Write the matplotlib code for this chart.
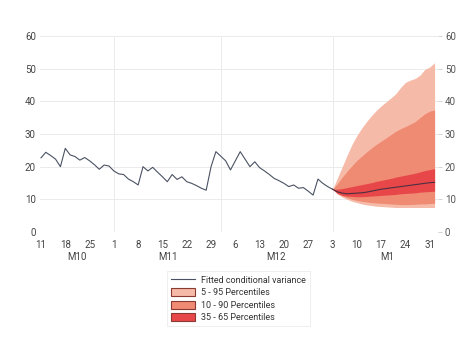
import numpy as np
import matplotlib.pyplot as plt
import matplotlib.transforms as mtransforms

plt.rcParams['font.family'] = ['Roboto', 'DejaVu Sans']

# business-day index, 0 = Mon 11 Oct
hist = [22.7, 24.4, 23.4, 22.3, 20.0, 25.6, 23.6, 23.1, 22.0, 22.8,
        21.8, 20.6, 19.2, 20.5, 20.2, 18.7, 17.8, 17.6, 16.2, 15.4,
        14.4, 20.0, 18.7, 19.8, 18.3, 16.9, 15.4, 17.6, 16.1, 16.9,
        15.4, 14.9, 14.2, 13.4, 12.8, 20.0, 24.6, 23.2, 21.8, 19.0,
        21.8, 24.6, 22.3, 20.0, 21.5, 19.7, 18.7, 17.6, 16.4, 15.7,
        14.9, 13.9, 14.4, 13.4, 13.6, 12.5, 11.3, 16.2, 14.9, 13.9,
        13.1]

upper95 = [13.1, 16.5, 20.0, 23.5, 26.8, 29.5, 31.8, 33.8, 35.6, 37.2, 38.6,
           39.8, 41.0, 42.3, 44.2, 45.8, 46.5, 47.0, 48.0, 49.8, 50.5, 51.8]
upper90 = [13.1, 14.8, 16.8, 18.6, 20.3, 21.9, 23.2, 24.5, 25.7, 26.8, 27.8,
           28.8, 29.8, 30.8, 31.6, 32.3, 33.0, 33.8, 35.0, 36.2, 37.0, 37.4]
upper65 = [13.1, 13.1, 13.3, 13.6, 13.9, 14.2, 14.5, 14.8, 15.1, 15.5, 15.8,
           16.1, 16.4, 16.8, 17.1, 17.4, 17.7, 18.0, 18.4, 18.8, 19.1, 19.4]
center = [13.1, 12.3, 11.9, 11.7, 11.8, 11.9, 12.0, 12.2, 12.5, 12.8, 13.1,
          13.3, 13.5, 13.7, 13.9, 14.1, 14.3, 14.5, 14.7, 14.9, 15.1, 15.2]
lower35 = [13.1, 11.8, 11.2, 11.0, 10.9, 10.8, 10.8, 10.9, 11.0, 11.1, 11.2,
           11.3, 11.4, 11.5, 11.7, 11.8, 11.9, 12.0, 12.2, 12.3, 12.4, 12.5]
lower10 = [13.1, 11.9, 11.1, 10.5, 10.0, 9.7, 9.4, 9.2, 9.0, 8.9, 8.8,
           8.7, 8.6, 8.5, 8.4, 8.4, 8.4, 8.5, 8.6, 8.6, 8.7, 8.8]
lower5 = [13.1, 11.6, 10.7, 10.0, 9.4, 9.0, 8.6, 8.3, 8.1, 7.9, 7.8,
          7.7, 7.6, 7.5, 7.5, 7.5, 7.5, 7.5, 7.5, 7.5, 7.5, 7.5]

tick_labels = ['11', '18', '25', '1', '8', '15', '22', '29', '6', '13',
               '20', '27', '3', '10', '17', '24', '31']
months = ['M10', 'M11', 'M12', 'M1']
month_pos = [7.4, 26.1, 48.4, 71.2]
month_starts = [15, 37, 60]

x_hist = np.arange(len(hist))
x_fc = np.arange(60, 60 + len(center))

fig = plt.figure(figsize=(4.74, 3.48), dpi=100)
ax = fig.add_axes([0.0844, 0.3333, 0.8396, 0.5633])

c_out, c_mid, c_in = '#f6bba8', '#ef8a73', '#e8474a'
ax.fill_between(x_fc, lower5, upper95, color=c_out, lw=0, zorder=2)
ax.fill_between(x_fc, lower10, upper90, color=c_mid, lw=0, zorder=3)
ax.fill_between(x_fc, lower35, upper65, color=c_in, lw=0, zorder=4)
ax.plot(x_hist, hist, color='#4a5263', lw=0.8, zorder=5)
ax.plot(x_fc, center, color='#4a3040', lw=0.8, zorder=5)

ax.set_xlim(-0.2, 81.7)
ax.set_ylim(0, 60)
ax.set_yticks(range(0, 61, 10))
ax.set_xticks(range(0, 81, 5))
ax.set_xticklabels(tick_labels)
for s in ax.spines.values():
    s.set_visible(False)
for v in range(10, 61, 10):
    ax.axhline(v, color='#ebebeb', lw=0.7, zorder=0)
for m in month_starts:
    ax.axvline(m, color='#ebebeb', lw=0.7, zorder=0)
ax.tick_params(axis='both', length=0, labelsize=7, colors='#444444')
ax.tick_params(axis='x', pad=6)
ax.tick_params(axis='y', pad=3)

ax2 = ax.twinx()
ax2.set_ylim(0, 60)
ax2.set_yticks(range(0, 61, 10))
for s in ax2.spines.values():
    s.set_visible(False)
ax2.tick_params(axis='y', length=3, width=0.6, color='#cccccc',
                labelsize=7, labelcolor='#555555', pad=2)

trans = mtransforms.blended_transform_factory(ax.transData, ax.transAxes)
for lab, pos in zip(months, month_pos):
    ax.text(pos, -0.128, lab, transform=trans, ha='center', va='center',
            fontsize=7, color='#444444')

handles = [
    plt.Line2D([], [], color='#4a5263', lw=0.8),
    plt.Rectangle((0, 0), 1, 1, fc=c_out, ec='#8a3a30', lw=0.8),
    plt.Rectangle((0, 0), 1, 1, fc=c_mid, ec='#8a3a30', lw=0.8),
    plt.Rectangle((0, 0), 1, 1, fc=c_in, ec='#8a3a30', lw=0.8),
]
labels = ['Fitted conditional variance', '5 - 95 Percentiles',
          '10 - 90 Percentiles', '35 - 65 Percentiles']
leg = fig.legend(handles, labels, loc='center', bbox_to_anchor=(0.503, 0.141),
                 fontsize=6.5, frameon=True, fancybox=False, edgecolor='#e6e6e6',
                 handlelength=2.6, handleheight=1.0, labelspacing=0.35,
                 borderpad=0.5, handletextpad=0.7, labelcolor='#333333')
leg.get_frame().set_linewidth(0.6)

fig.savefig('out.png', dpi=100, facecolor='white')
